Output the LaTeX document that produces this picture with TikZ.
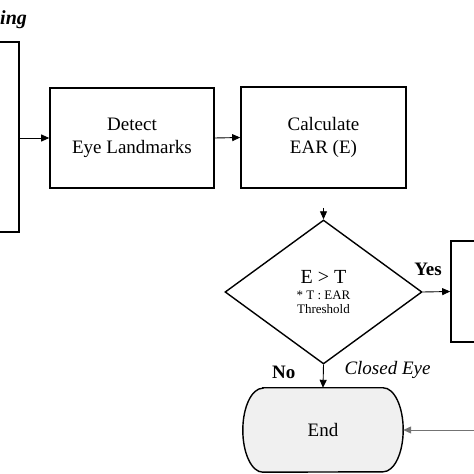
\documentclass[tikz,border=0pt]{standalone}
\usepackage{fontspec}
\setmainfont{Liberation Serif}
\usetikzlibrary{shapes.geometric, arrows.meta, positioning}

\begin{document}
\begin{tikzpicture}[x=1pt, y=1pt,
	box/.style={draw, line width=1.6pt, inner sep=0pt, align=center, font=\fontsize{19}{23}\selectfont},
	flow/.style={line width=0.9pt, -{Triangle[length=8pt, width=7pt]}},
	tag/.style={font=\fontsize{19}{23}\selectfont\bfseries}]
	\definecolor{endcol}{rgb}{0.94,0.94,0.94}
	\useasboundingbox (0, 0) rectangle (474, 474);
	\clip (0, 0) rectangle (474, 474);
	\node[anchor=base west, inner sep=0pt, font=\fontsize{20}{23}\selectfont\bfseries\itshape] (title) at (0, 449) {ing};
	\node[box, minimum width=98pt, minimum height=190pt] (input) at (-30, 337) {};
	\node[box, minimum width=164pt, minimum height=100pt] (detect) at (132, 336) {Detect\\Eye Landmarks};
	\node[box, minimum width=165pt, minimum height=101pt] (calc) at (323.5, 336.5) {Calculate\\EAR (E)};
	\node[diamond, draw, line width=1.4pt, inner sep=0pt, minimum width=197pt, minimum height=144pt, align=center] (test) at (323.5, 182)
		{{\fontsize{20}{20}\selectfont E > T}\\[4pt]{\fontsize{13}{15}\selectfont * T : EAR}\\[2pt]{\fontsize{13}{15}\selectfont Threshold}};
	\node[box, minimum width=80pt, minimum height=101pt] (alarm) at (491, 182.5) {};
	\node[minimum width=160pt, minimum height=84pt] (end) at (323, 44) {};
	% rounded end terminal
	\draw[line width=1.4pt, fill=endcol] ([xshift=20pt]end.north west) -- ([xshift=-20pt]end.north east)
		arc[start angle=90, end angle=-90, x radius=20pt, y radius=42pt] -- ([xshift=20pt]end.south west)
		arc[start angle=270, end angle=90, x radius=20pt, y radius=42pt] -- cycle;
	\node[font=\fontsize{19}{23}\selectfont] at (end) {End};
	\coordinate (calcout) at (323.5, 266);
	\coordinate (side) at (480, 44);
	\draw[flow] (input.east |- detect) -- (detect.west);
	\draw[flow] (detect.east) -- (calc.west);
	\draw[flow] (calcout) -- (test.north);
	\draw[flow] (test.east) -- (alarm.west);
	\node[tag, anchor=south] at (428, 195) {Yes};
	\draw[flow] (test.south) -- (end.north);
	\node[tag, anchor=east] at (299, 102) {No};
	\node[anchor=west, font=\fontsize{19}{23}\selectfont\itshape] at (341, 104) {Closed Eye};
	\draw[flow, draw=black!55] (side) -- (end.east);
\end{tikzpicture}
\end{document}
